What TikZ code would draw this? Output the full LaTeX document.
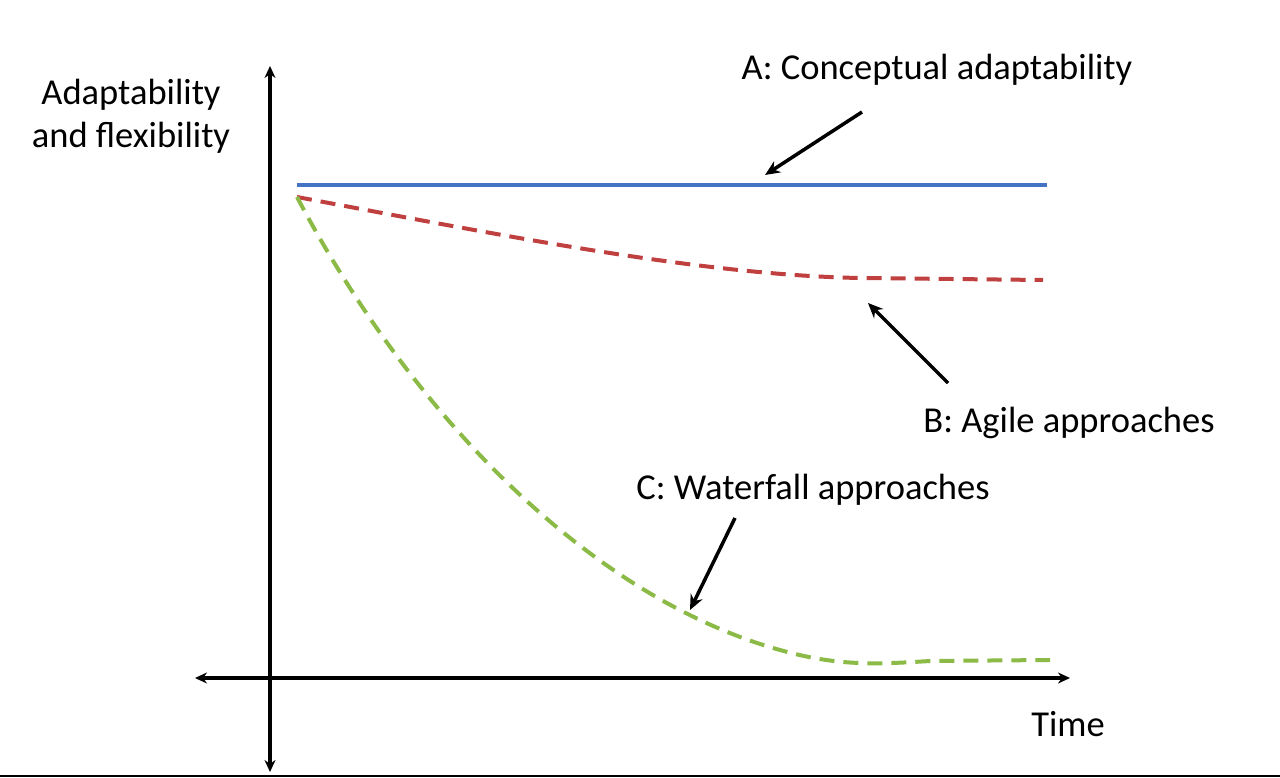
\documentclass[tikz,border=0pt]{standalone}
\usepackage{fontspec}
\setmainfont{Carlito}
\usetikzlibrary{arrows.meta}
\begin{document}
\begin{tikzpicture}[x=1pt,y=-1pt,
  lbl/.style={font=\fontsize{36.5}{43}\selectfont, align=center, inner sep=0},
  ax/.style={line width=3.5pt, {Stealth[length=12pt,width=11pt]}-{Stealth[length=12pt,width=11pt]}},
  ptr/.style={line width=3.5pt, -{Stealth[length=15pt,width=13pt]}},
  dsh/.style={line width=4pt, dash pattern=on 15pt off 9pt}]
\useasboundingbox (0,0) rectangle (1280,778);
\fill[white] (0,0) rectangle (1280,778);
\draw[line width=1.5pt] (0,776) -- (1280,776);
\coordinate (yt) at (270,66); \coordinate (yb) at (270,772);
\coordinate (xl) at (195,678); \coordinate (xr) at (1070,678);
\draw[ax] (yt) -- (yb);
\draw[ax] (xl) -- (xr);
\coordinate (o) at (297,197);
\draw[color={rgb,255:red,68;green,114;blue,196}, line width=3.5pt] (297,185) -- (1047,185);
\draw[dsh, color={rgb,255:red,192;green,64;blue,64}] (o) .. controls (500,235) and (700,275) .. (860,278) -- (1043,280);
\draw[dsh, color={rgb,255:red,140;green,186;blue,70}] (o) .. controls (420,430) and (600,600) .. (780,650) .. controls (840,667) and (880,664) .. (930,661) -- (1050,660);
\node[lbl] (yl) at (131,116) {Adaptability\\and flexibility};
\node[lbl] (tl) at (1068,724) {Time};
\node[lbl] (a) at (937,70) {A: Conceptual adaptability};
\node[lbl] (b) at (1069,423) {B: Agile approaches};
\node[lbl] (c) at (813,490) {C: Waterfall approaches};
\coordinate (a1) at (862,112); \coordinate (a2) at (765,175);
\coordinate (b1) at (948,383); \coordinate (b2) at (868,303);
\coordinate (c1) at (735,518); \coordinate (c2) at (690,610);
\draw[ptr] (a1) -- (a2);
\draw[ptr] (b1) -- (b2);
\draw[ptr] (c1) -- (c2);
\end{tikzpicture}
\end{document}
